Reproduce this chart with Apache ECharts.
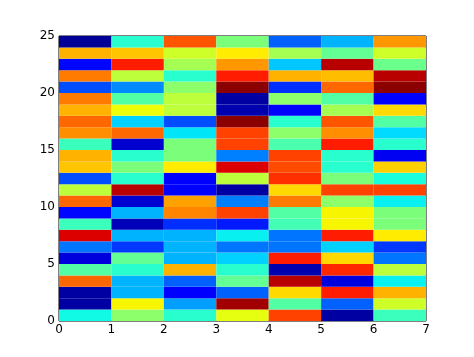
<!DOCTYPE html>
<html>
<head>
<meta charset="utf-8">
<script src="https://cdn.jsdelivr.net/npm/echarts@6/dist/echarts.min.js"></script>
<style>html,body{margin:0;padding:0;background:#fff}#c{width:474px;height:357px}</style>
</head>
<body>
<div id="c"></div>
<script>
// Column count and tick labels
var xTicks = [0, 1, 2, 3, 4, 5, 6, 7];
var yTicks = [0, 5, 10, 15, 20, 25];
// Cell values (0..1, jet colormap), one array per row, bottom row (0) first
var row0  = [0.37, 0.52, 0.40, 0.63, 0.84, 0.03, 0.42];
var row1  = [0.03, 0.65, 0.28, 0.97, 0.45, 0.22, 0.60];
var row2  = [0.03, 0.30, 0.12, 0.22, 0.68, 0.88, 0.72];
var row3  = [0.80, 0.30, 0.22, 0.47, 0.95, 0.08, 0.36];
var row4  = [0.45, 0.40, 0.72, 0.40, 0.04, 0.87, 0.58];
var row5  = [0.08, 0.47, 0.30, 0.33, 0.88, 0.68, 0.24];
var row6  = [0.24, 0.18, 0.30, 0.24, 0.24, 0.33, 0.18];
var row7  = [0.92, 0.30, 0.30, 0.36, 0.24, 0.88, 0.66];
var row8  = [0.42, 0.05, 0.17, 0.15, 0.43, 0.65, 0.50];
var row9  = [0.13, 0.30, 0.77, 0.84, 0.45, 0.65, 0.50];
var row10 = [0.80, 0.07, 0.74, 0.25, 0.78, 0.52, 0.36];
var row11 = [0.58, 0.95, 0.12, 0.03, 0.68, 0.84, 0.84];
var row12 = [0.20, 0.40, 0.12, 0.58, 0.86, 0.50, 0.38];
var row13 = [0.70, 0.50, 0.66, 0.92, 0.83, 0.40, 0.69];
var row14 = [0.72, 0.40, 0.50, 0.25, 0.84, 0.40, 0.10];
var row15 = [0.42, 0.07, 0.50, 0.84, 0.44, 0.88, 0.40];
var row16 = [0.76, 0.80, 0.35, 0.84, 0.52, 0.76, 0.34];
var row17 = [0.80, 0.33, 0.20, 0.99, 0.40, 0.82, 0.45];
var row18 = [0.72, 0.64, 0.58, 0.04, 0.12, 0.55, 0.68];
var row19 = [0.78, 0.45, 0.58, 0.03, 0.52, 0.45, 0.12];
var row20 = [0.20, 0.26, 0.52, 0.99, 0.17, 0.80, 0.99];
var row21 = [0.78, 0.58, 0.40, 0.88, 0.72, 0.71, 0.95];
var row22 = [0.13, 0.88, 0.55, 0.75, 0.32, 0.95, 0.48];
var row23 = [0.72, 0.70, 0.60, 0.66, 0.55, 0.47, 0.60];
var row24 = [0.02, 0.40, 0.82, 0.50, 0.22, 0.30, 0.75];
var rows = [row0,row1,row2,row3,row4,row5,row6,row7,row8,row9,row10,row11,row12,
            row13,row14,row15,row16,row17,row18,row19,row20,row21,row22,row23,row24];

function interp(pts, v){
  for (var i=1;i<pts.length;i++){
    if (v <= pts[i][0]) {
      var a=pts[i-1], b=pts[i];
      return a[1] + (b[1]-a[1])*(v-a[0])/(b[0]-a[0]);
    }
  }
  return pts[pts.length-1][1];
}
function jet(v){
  var r = interp([[0,0],[0.35,0],[0.66,1],[0.89,1],[1,0.5]], v);
  var g = interp([[0,0],[0.125,0],[0.375,1],[0.64,1],[0.91,0],[1,0]], v);
  var b = interp([[0,0.5],[0.11,1],[0.34,1],[0.65,0],[1,0]], v);
  return 'rgb(' + Math.round(r*255) + ',' + Math.round(g*255) + ',' + Math.round(b*255) + ')';
}
var jetColors = [];
for (var k=0;k<=100;k++) jetColors.push(jet(k/100));

var data = [];
rows.forEach(function(r, yi){ r.forEach(function(v, xi){ data.push([xi, yi, v]); }); });

var chart = echarts.init(document.getElementById('c'), null, {renderer:'canvas'});
var font = 'DejaVu Sans';
chart.setOption({
  animation: false,
  grid: {left: 59, top: 36, width: 367, height: 285, show: false},
  xAxis: {type:'value', min:0, max:7, interval:1,
    axisLine:{show:false}, axisTick:{show:false}, splitLine:{show:false},
    axisLabel:{color:'#000', fontFamily:font, fontSize:12, margin:3}},
  yAxis: {type:'value', min:0, max:25, interval:5,
    axisLine:{show:false}, axisTick:{show:false}, splitLine:{show:false},
    axisLabel:{color:'#000', fontFamily:font, fontSize:12, margin:4}},
  visualMap: {show:false, type:'continuous', min:0, max:1, dimension:2, seriesIndex:0,
    inRange:{color: jetColors}},
  series: [{
    type:'custom',
    data: data,
    encode:{x:0, y:1},
    renderItem: function(params, api){
      var x = api.value(0), y = api.value(1);
      var p0 = api.coord([x, y+1]);
      var p1 = api.coord([x+1, y]);
      return {type:'rect', shape:{x:p0[0], y:p0[1], width:p1[0]-p0[0], height:p1[1]-p0[1]},
        style:{fill: api.visual('color'), stroke:null}};
    }
  }, {
    type:'line', data:[], silent:true,
    markArea:{silent:true, itemStyle:{color:'rgba(0,0,0,0)', borderColor:'#000', borderWidth:1},
      data:[[{coord:[0,0]},{coord:[7,25]}]]}
  }]
});
</script>
</body>
</html>
